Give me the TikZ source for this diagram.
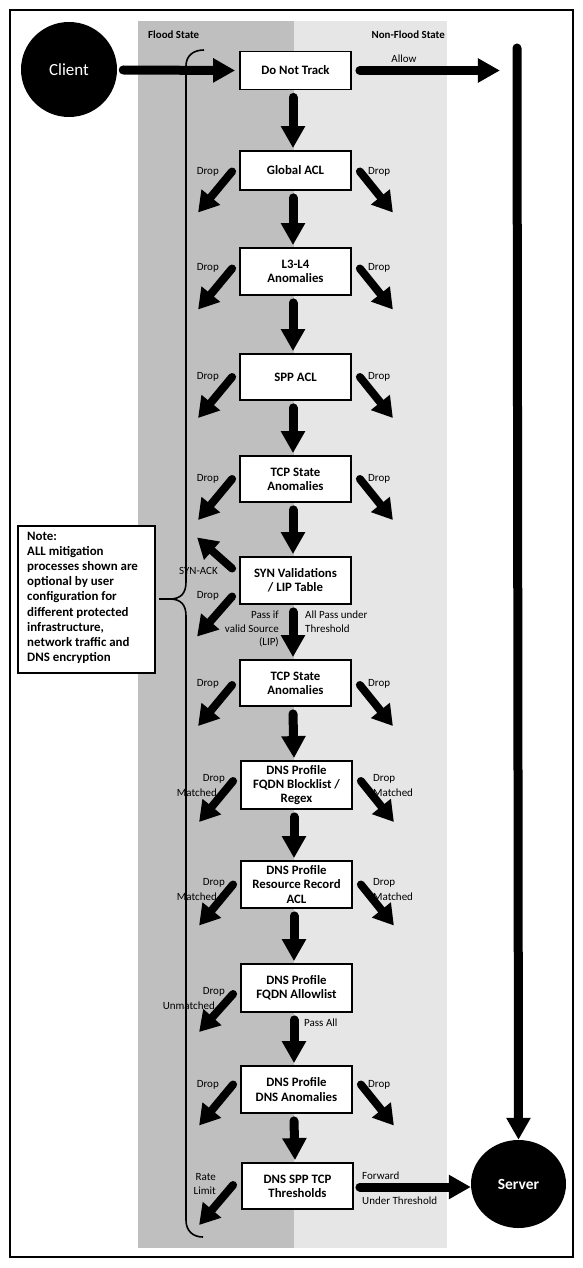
\documentclass[tikz,border=0pt]{standalone}
\usepackage{fontspec}
\setmainfont{Carlito}
\usetikzlibrary{arrows.meta,calc,shapes.geometric}
\definecolor{flood}{HTML}{BFBFBF}
\definecolor{nonflood}{HTML}{E6E6E6}
\begin{document}
\begin{tikzpicture}[x=1pt,y=-1pt,
  box/.style={draw,line width=1.8pt,fill=white,minimum width=111pt,align=center,
    inner sep=0pt,font=\bfseries\fontsize{12.8}{14.3}\selectfont},
  lbl/.style={inner sep=0pt,font=\fontsize{11}{13.8}\selectfont},
  hdr/.style={inner sep=0pt,font=\bfseries\fontsize{10.9}{12}\selectfont},
  bigarrow/.style={line width=9pt,line cap=round,-{Triangle[width=23pt,length=22pt]}},
  droparrow/.style={line width=8pt,line cap=round,-{Triangle[width=23pt,length=20pt]}},
  ball/.style={ellipse,fill=black,text=white,inner sep=0pt}]
\useasboundingbox (0,0) rectangle (582,1268);
\fill[white] (0,0) rectangle (582,1268);
% frame and bands
\draw[line width=2pt] (10,10) rectangle (573,1257);
\fill[flood] (138,21) rectangle (294,1248);
\fill[nonflood] (294,21) rectangle (447,1248);
\node[hdr,anchor=west] (fs) at (148,35) {Flood State};
\node[hdr,anchor=east] (nfs) at (445,35) {Non-Flood State};
% brace
\draw[line width=1.6pt] (204,50) .. controls (193,50) and (186,56) .. (186,66)
  -- (186,582) .. controls (186,593) and (181,599) .. (170,599) -- (159,599)
  -- (170,599) .. controls (181,599) and (186,605) .. (186,616)
  -- (186,1220) .. controls (186,1231) and (193,1237) .. (203,1237);
% note
\node[draw,line width=1.8pt,fill=white,anchor=north west,minimum width=137pt,minimum height=147pt,
  inner sep=0pt] (note) at (17,525) {};
\node[anchor=north west,align=left,inner sep=0pt,font=\bfseries\fontsize{12.9}{15.1}\selectfont]
  (notetext) at (27,532) {Note:\\ALL mitigation\\processes shown are\\optional by user\\configuration for\\different protected\\infrastructure,\\network traffic and\\DNS encryption};
% client / server
\node[ball,minimum width=96pt,minimum height=95pt,font=\fontsize{17}{20}\selectfont] (client) at (69,69.5) {Client};
\node[ball,minimum width=95pt,minimum height=88pt,font=\bfseries\fontsize{15.5}{18}\selectfont] (server) at (518.5,1184) {Server};
% boxes
\node[box,minimum height=38pt] (dnt) at (295.5,70.5) {Do Not Track};
\node[box,minimum height=39pt] (gacl) at (295.5,170.5) {Global ACL};
\node[box,minimum height=47pt] (l34) at (295.5,271.5) {L3-L4\\Anomalies};
\node[box,minimum height=46pt] (spp) at (295.5,377) {SPP ACL};
\node[box,minimum height=46pt] (tcp1) at (295.5,479) {TCP State\\Anomalies};
\node[box,minimum height=47pt] (syn) at (295.5,580.5) {SYN Validations\\/ LIP Table};
\node[box,minimum height=46pt] (tcp2) at (295.5,683) {TCP State\\Anomalies};
\node[box,minimum height=48pt] (fqdn) at (296.5,785) {DNS Profile\\FQDN Blocklist /\\Regex};
\node[box,minimum height=47pt] (rr) at (296.5,884.5) {DNS Profile\\Resource Record\\ACL};
\node[box,minimum height=48pt] (allow) at (296.5,988) {DNS Profile\\FQDN Allowlist};
\node[box,minimum height=47pt] (anom) at (296.5,1089.5) {DNS Profile\\DNS Anomalies};
\node[box,minimum height=46pt] (thr) at (297.5,1186) {DNS SPP TCP\\Thresholds};
% labels
\node[lbl] (allowlbl) at (404,59) {Allow};
\foreach \n/\y in {gacl/172,l34/268,spp/377,tcp1/479,tcp2/684,anom/1085}{
  \node[lbl,anchor=east] (\n-dl) at (219,\y) {Drop};
  \node[lbl,anchor=west] (\n-dr) at (368,\y) {Drop};
}
\foreach \n/\y in {fqdn/779,rr/883}{
  \node[lbl,anchor=east] (\n-dl) at (225,\y) {Drop};
  \node[lbl,anchor=east] (\n-ml) at (217,\y+14) {Matched};
  \node[lbl,anchor=west] (\n-dr) at (373,\y) {Drop};
  \node[lbl,anchor=west] (\n-mr) at (373,\y+14) {Matched};
}
\node[lbl,anchor=east] (synack) at (218,571) {SYN-ACK};
\node[lbl,anchor=east] (syndrop) at (219,596) {Drop};
\node[lbl,anchor=east,align=right] (passif) at (279,629) {Pass if\\valid Source\\(LIP)};
\node[lbl,anchor=west,align=left] (allpass) at (305,622) {All Pass under\\Threshold};
\node[lbl,anchor=east] (aldrop) at (225,992) {Drop};
\node[lbl,anchor=east] (alun) at (215,1006) {Unmatched};
\node[lbl,anchor=west] (passall) at (304,1023) {Pass All};
\node[lbl,anchor=east] (rate) at (216,1177) {Rate};
\node[lbl,anchor=east] (limit) at (216,1191) {Limit};
\node[lbl,anchor=west] (fwd) at (362,1176) {Forward};
\node[lbl,anchor=west] (under) at (362,1201) {Under Threshold};
% main arrows
\draw[bigarrow] ($(client.east)+(6,0.5)$) -- ($(dnt.west)+(-4,0)$);
\draw[bigarrow] ($(dnt.east)+(8,0)$) -- ++(140,0) coordinate (allowtip);
\coordinate (srvtop) at (517,48);
\draw[bigarrow] (srvtop) -- (server.north);
\draw[bigarrow] ($(thr.east)+(6,1)$) -- ($(server.west)+(0,3)$);
% down arrows
\foreach \a/\b in {dnt/gacl,gacl/l34,l34/spp,spp/tcp1,tcp1/syn,syn/tcp2,tcp2/fqdn,fqdn/rr,rr/allow,allow/anom,anom/thr}{
  \draw[bigarrow] ($(\a.south)+(-2.5,7)$) -- ($(\b.north)+(-2.5,-2)$);
}
% drop arrows (both sides)
\foreach \n/\dy in {gacl/1,l34/-3,spp/0,tcp1/0,tcp2/2,fqdn/-4,rr/0,anom/-5}{
  \draw[droparrow] ($(\n.west)+(-7,\dy)$) -- ++(-34,41);
  \draw[droparrow] ($(\n.east)+(8,\dy)$) -- ++(33,41);
}
% single-side arrows
\draw[droparrow] ($(syn.west)+(-7,-12)$) -- ++(-35,-31);
\draw[droparrow] ($(syn.west)+(-7,16)$) -- ++(-35,40);
\draw[droparrow] ($(allow.west)+(-7,6)$) -- ++(-34,38);
\draw[droparrow] ($(thr.west)+(-8,-1)$) -- ++(-34,40);
\end{tikzpicture}
\end{document}
